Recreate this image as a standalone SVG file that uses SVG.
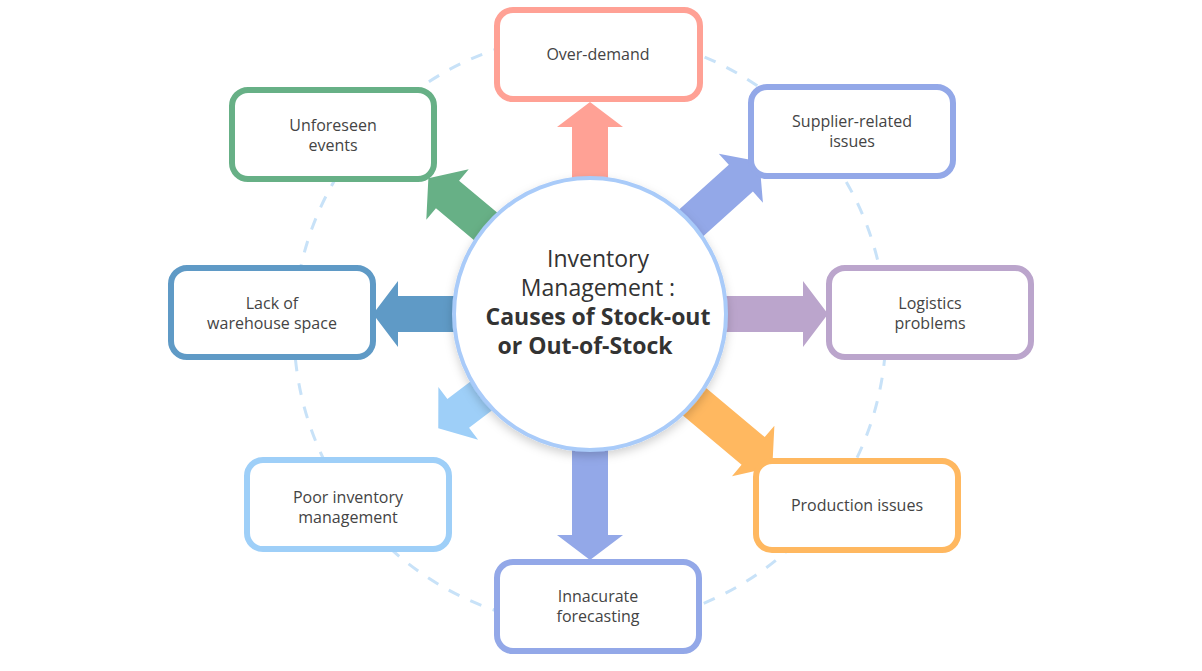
<svg xmlns="http://www.w3.org/2000/svg" width="1202" height="671" viewBox="0 0 1202 671">
<defs>
<style>
.box{fill:#fff;stroke-width:6}
.t{font-family:"Open Sans","Liberation Sans",sans-serif;font-size:16px;fill:#444;text-anchor:middle}
.c{font-family:"Open Sans","Liberation Sans",sans-serif;font-size:23px;fill:#333;text-anchor:middle}
</style>
<filter id="sh" x="-20%" y="-20%" width="140%" height="140%"><feDropShadow dx="0" dy="4" stdDeviation="5" flood-color="#000" flood-opacity="0.18"/></filter>
</defs>
<rect width="1202" height="671" fill="#fff"/>
<circle cx="590" cy="330" r="296" fill="none" stroke="#C8E2F8" stroke-width="3" stroke-dasharray="12 12"/>
<g id="connectors" transform="translate(590,314)">
<polygon fill="#FFA195" transform="rotate(-90)" points="110,-18 187,-18 187,-33 212,0 187,33 187,18 110,18"/>
<polygon fill="#93A8E8" transform="rotate(-42)" points="110,-18 203,-18 203,-33 228,0 203,33 203,18 110,18"/>
<polygon fill="#BBA5CC" points="110,-18 213,-18 213,-33 238,0 213,33 213,18 110,18"/>
<polygon fill="#FFB860" transform="rotate(40)" points="110,-18 213,-18 213,-33 238,0 213,33 213,18 110,18"/>
<polygon fill="#93A8E8" transform="rotate(90)" points="110,-18 221,-18 221,-33 246,0 221,33 221,18 110,18"/>
<polygon fill="#9ECFF8" transform="rotate(143)" points="110,-18 165,-18 165,-33 190,0 165,33 165,18 110,18"/>
<polygon fill="#5F9AC6" transform="rotate(180)" points="110,-18 192,-18 192,-33 217,0 192,33 192,18 110,18"/>
<polygon fill="#67B086" transform="rotate(-140)" points="110,-18 186,-18 186,-33 211,0 186,33 186,18 110,18"/>
</g>
<g id="center">
<circle cx="590" cy="314" r="136" fill="#fff" stroke="#A9CBF9" stroke-width="4" filter="url(#sh)"/>
<text class="c" x="598" y="267">Inventory</text>
<text class="c" x="598" y="296">Management :</text>
<text class="c" x="598" y="325" font-weight="bold">Causes of Stock-out</text>
<text class="c" x="585" y="354" font-weight="bold">or Out-of-Stock</text>
</g>
<g id="n1"><rect class="box" x="497" y="10" width="203" height="89" rx="16" stroke="#FFA195"/><text class="t" x="598" y="60">Over-demand</text></g>
<g id="n2"><rect class="box" x="751" y="87" width="202" height="89" rx="16" stroke="#93A8E8"/><text class="t" x="852" y="127">Supplier-related</text><text class="t" x="852" y="147">issues</text></g>
<g id="n3"><rect class="box" x="829" y="268" width="202" height="89" rx="16" stroke="#BBA5CC"/><text class="t" x="930" y="309">Logistics</text><text class="t" x="930" y="329">problems</text></g>
<g id="n4"><rect class="box" x="756" y="461" width="202" height="89" rx="16" stroke="#FFB860"/><text class="t" x="857" y="511">Production issues</text></g>
<g id="n5"><rect class="box" x="497" y="562" width="202" height="89" rx="16" stroke="#93A8E8"/><text class="t" x="598" y="602">Innacurate</text><text class="t" x="598" y="622">forecasting</text></g>
<g id="n6"><rect class="box" x="247" y="460" width="202" height="89" rx="16" stroke="#9ECFF8"/><text class="t" x="348" y="503">Poor inventory</text><text class="t" x="348" y="523">management</text></g>
<g id="n7"><rect class="box" x="171" y="268" width="202" height="89" rx="16" stroke="#5F9AC6"/><text class="t" x="272" y="309">Lack of</text><text class="t" x="272" y="329">warehouse space</text></g>
<g id="n8"><rect class="box" x="232" y="90" width="202" height="89" rx="16" stroke="#67B086"/><text class="t" x="333" y="131">Unforeseen</text><text class="t" x="333" y="151">events</text></g>
</svg>
